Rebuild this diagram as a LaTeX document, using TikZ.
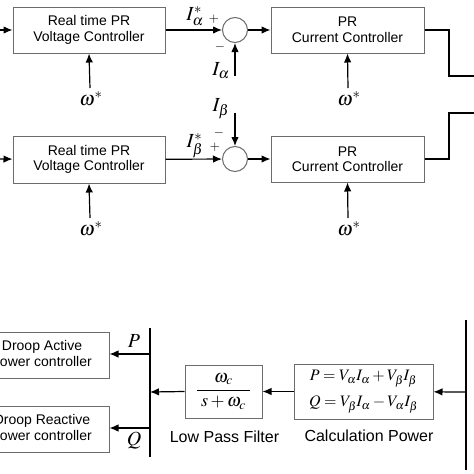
\documentclass[tikz,border=0pt]{standalone}
\usepackage{mathptmx}
\usepackage[no-math]{fontspec}
\setmainfont{Liberation Sans}
\usetikzlibrary{arrows.meta}
\begin{document}
\begin{tikzpicture}[x=1pt,y=-1pt,
  blk/.style={draw=gray!85!black, line width=1pt, fill=white, align=center, font=\fontsize{14}{15.5}\selectfont, inner sep=0pt},
  arr/.style={-{Latex[length=9pt,width=7.5pt]}, line width=1.2pt},
  ln/.style={line width=1.2pt},
  sumc/.style={circle, draw=gray!85!black, line width=1pt, minimum size=25pt, inner sep=0pt},
  lbl/.style={font=\fontsize{20}{22}\selectfont, inner sep=0pt},
  pm/.style={font=\fontsize{13}{14}\selectfont, inner sep=0pt},
  captxt/.style={font=\fontsize{16}{18}\selectfont, inner sep=0pt}]
\useasboundingbox (0,0) rectangle (474,474);
\clip (0,0) rectangle (474,474);
% ---- row 1 ----
\node[blk, minimum width=152pt, minimum height=46pt] (v1) at (89,30) {Real time PR\\Voltage Controller};
\node[sumc] (s1) at (235,30) {};
\node[blk, minimum width=153pt, minimum height=46pt] (c1) at (347.5,30) {PR\\Current Controller};
\coordinate (in1) at (0,30);
\draw[arr] (in1) -- (v1);
\draw[arr] (v1) -- (s1);
\draw[arr] (s1) -- (c1);
\node[lbl] (ias) at (195,16) {$I_\alpha^*$};
\node[pm] (p1) at (214,19) {$+$};
\node[pm] (m1) at (220,47) {$-$};
\coordinate (ia) at (235,76);
\draw[arr] (ia) -- (s1);
\node[lbl] (ial) at (221,71) {$I_\alpha$};
\node[lbl] (w1) at (91,99) {$\omega^*$};
\coordinate (w1t) at (90,88);
\draw[arr] (w1t) -- (v1.south);
\node[lbl] (w2) at (349,99) {$\omega^*$};
\coordinate (w2t) at (348,88);
\draw[arr] (w2t) -- (c1.south);
\coordinate (o1a) at (449,30);
\coordinate (o1b) at (449,76);
\coordinate (o1c) at (474,76);
\draw[ln] (c1.east) -- (o1a) -- (o1b) -- (o1c);
% ---- row 2 ----
\node[blk, minimum width=152pt, minimum height=47pt] (v2) at (89,159.5) {Real time PR\\Voltage Controller};
\node[sumc] (s2) at (235,159) {};
\node[blk, minimum width=153pt, minimum height=46pt] (c2) at (347.5,159) {PR\\Current Controller};
\coordinate (in2) at (0,159);
\draw[arr] (in2) -- (v2);
\draw[arr] (v2) -- (s2);
\draw[arr] (s2) -- (c2);
\node[lbl] (ibs) at (195,146) {$I_\beta^*$};
\node[pm] (p2) at (215,147) {$+$};
\node[pm] (m2) at (219,133) {$-$};
\coordinate (ib) at (235,113);
\draw[arr] (ib) -- (s2);
\node[lbl] (ibl) at (221,109) {$I_\beta$};
\node[lbl] (w3) at (91,229) {$\omega^*$};
\coordinate (w3t) at (90,218);
\draw[arr] (w3t) -- (v2.south);
\node[lbl] (w4) at (349,229) {$\omega^*$};
\coordinate (w4t) at (348,218);
\draw[arr] (w4t) -- (c2.south);
\coordinate (o2a) at (449,159);
\coordinate (o2b) at (449,113);
\coordinate (o2c) at (474,113);
\draw[ln] (c2.east) -- (o2a) -- (o2b) -- (o2c);
% ---- bottom ----
\node[blk, minimum width=134pt, minimum height=46pt] (da) at (42,355) {Droop Active\\power controller};
\node[blk, minimum width=134pt, minimum height=46pt] (dr) at (42,429) {Droop Reactive\\power controller};
\coordinate (bt) at (150,328);
\coordinate (bb) at (150,457);
\draw[ln] (bt) -- (bb);
\coordinate (bp) at (150,354);
\coordinate (bq) at (150,428);
\draw[arr] (bp) -- (bp -| da.east);
\draw[arr] (bq) -- (bq -| dr.east);
\node[lbl] (pl) at (134,341) {$P$};
\node[lbl] (ql) at (134,441) {$Q$};
\node[blk, minimum width=77pt, minimum height=53pt, font=\fontsize{18}{20}\selectfont] (lpf) at (223.5,391.5) {$\displaystyle\frac{\omega_c}{\;s+\omega_c\;}$};
\coordinate (bm) at (150,392);
\draw[arr] (lpf.west) -- (bm);
\node[captxt] (lpft) at (224.5,437) {Low Pass Filter};
\node[blk, minimum width=139pt, minimum height=55pt, font=\fontsize{16}{26}\selectfont] (cp) at (363.5,391.5) {$P=V_\alpha I_\alpha+V_\beta I_\beta$\\$Q=V_\beta I_\alpha-V_\alpha I_\beta$};
\draw[arr] (cp) -- (lpf);
\node[captxt] (cpt) at (369,436) {Calculation Power};
\coordinate (rt) at (466,320);
\coordinate (rb) at (466,470);
\coordinate (rm) at (466,392);
\draw[ln] (rt) -- (rb);
\draw[arr] (rm) -- (cp);
\end{tikzpicture}
\end{document}
